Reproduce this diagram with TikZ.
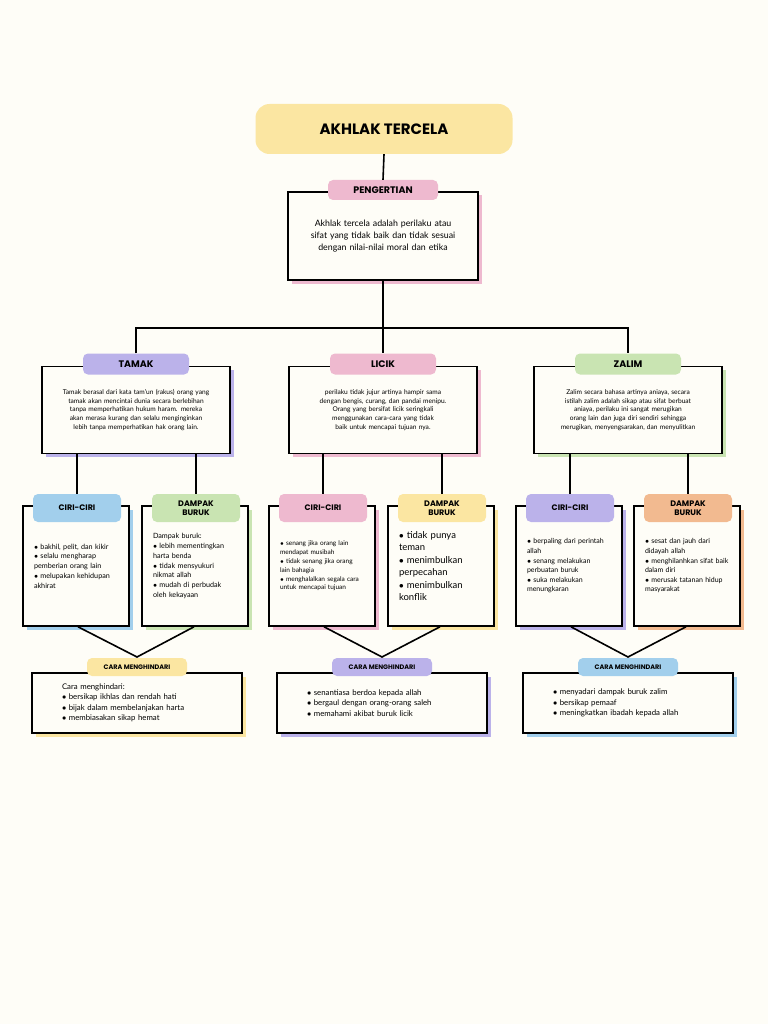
\documentclass[tikz,border=0pt]{standalone}
\usepackage{fontspec}
\setmainfont{Lato}
\newfontfamily\headfont{Poppins}
\usetikzlibrary{shadows}
\hyphenpenalty=10000
\exhyphenpenalty=10000
\definecolor{bg}{HTML}{FEFDF7}
\definecolor{cyel}{HTML}{FBE6A2}
\definecolor{cpink}{HTML}{EEB9CF}
\definecolor{cpurp}{HTML}{BBB2EA}
\definecolor{cblue}{HTML}{A2CFEC}
\definecolor{cgreen}{HTML}{C9E4B2}
\definecolor{corange}{HTML}{F2BA90}
\begin{document}
\begin{tikzpicture}[x=1pt,y=-1pt,
  panel/.style={draw=black,line width=1.6pt,fill=bg,align=center,inner sep=4pt,
     drop shadow={shadow xshift=3.5pt,shadow yshift=-3.5pt,fill=#1,opacity=1}},
  tag/.style={fill=#1,rounded corners=5pt,font=\headfont\bfseries\fontsize{8}{9}\selectfont,align=center,inner sep=2pt},
  link/.style={line width=1.6pt}]
\fill[bg] (0,0) rectangle (768,1024);
\useasboundingbox (0,0) rectangle (768,1024);
% title
\node[fill=cyel,rounded corners=14pt,minimum width=257pt,minimum height=50pt,font=\headfont\bfseries\fontsize{15}{17}\selectfont] (title) at (384,129) {AKHLAK TERCELA};
% pengertian
\node[panel=cpink,minimum width=190pt,minimum height=88pt,text width=150pt,font=\fontsize{8.8}{12}\selectfont] (peng) at (383,236) {Akhlak tercela adalah perilaku atau sifat yang tidak baik dan tidak sesuai dengan nilai-nilai moral dan etika\\[6pt]};
\node[tag=cpink,minimum width=110pt,minimum height=20pt,font=\headfont\bfseries\fontsize{9.5}{11}\selectfont] (pengt) at (383,190) {PENGERTIAN};
\draw[link] (title.south) -- (pengt.north);
% level 2 panels
\foreach \n/\x/\c/\t/\txt in {
 tam/136/cpurp/TAMAK/{Tamak berasal dari kata tam'un (rakus) orang yang tamak akan mencintai dunia secara berlebihan tanpa memperhatikan hukum haram. mereka akan merasa kurang dan selalu menginginkan lebih tanpa memperhatikan hak orang lain.},
 lic/383/cpink/LICIK/{perilaku tidak jujur artinya hampir sama dengan bengis, curang, dan pandai menipu.\\ Orang yang bersifat licik seringkali menggunakan cara-cara yang tidak baik untuk mencapai tujuan nya.},
 zal/628/cgreen/ZALIM/{Zalim secara bahasa artinya aniaya, secara istilah zalim adalah sikap atau sifat berbuat aniaya, perilaku ini sangat merugikan orang lain dan juga diri sendiri sehingga merugikan, menyengsarakan, dan menyulitkan}}{
 \node[panel=\c,minimum width=188pt,minimum height=87pt,text width=148pt,font=\fontsize{6.6}{8.6}\selectfont] (\n) at (\x,410) {\txt\\[10pt]};
 \node[tag=\c,minimum width=106pt,minimum height=21pt,font=\headfont\bfseries\fontsize{9.5}{11}\selectfont] (\n t) at (\x,364) {\t};
}
\coordinate (hub) at (383,328);
\draw[link] (peng.south) -- (hub);
\draw[link] (tamt.north) |- (hub) -| (zalt.north);
\draw[link] (hub) -- (lict.north);
% children
\foreach \n/\x/\c/\t/\s/\l/\txt in {
 tc/76/cblue/CIRI-CIRI/7.2/9.8/{$\bullet$ bakhil, pelit, dan kikir\\ $\bullet$ selalu mengharap pemberian orang lain\\ $\bullet$ melupakan kehidupan akhirat},
 td/195/cgreen/DAMPAK\\BURUK/7.2/9.8/{Dampak buruk:\\ $\bullet$ lebih mementingkan harta benda\\ $\bullet$ tidak mensyukuri nikmat allah\\ $\bullet$ mudah di perbudak oleh kekayaan},
 lc/322/cpink/CIRI-CIRI/6.5/8.8/{$\bullet$ senang jika orang lain mendapat musibah\\ $\bullet$ tidak senang jika orang lain bahagia\\ $\bullet$ menghalalkan segala cara untuk mencapai tujuan},
 ld/441/cyel/DAMPAK\\BURUK/9.5/12.5/{$\bullet$ tidak punya teman\\ $\bullet$ menimbulkan perpecahan\\ $\bullet$ menimbulkan konflik},
 zc/569/cpurp/CIRI-CIRI/7/9.6/{$\bullet$ berpaling dari perintah allah\\ $\bullet$ senang melakukan perbuatan buruk\\ $\bullet$ suka melakukan menungkaran},
 zd/687/corange/DAMPAK\\BURUK/7/9.6/{$\bullet$ sesat dan jauh dari didayah allah\\ $\bullet$ menghilanhkan sifat baik dalam diri\\ $\bullet$ merusak tatanan hidup masyarakat}}{
 \node[panel=\c,minimum width=106pt,minimum height=120pt,text width=84pt,align=left,font=\fontsize{\s}{\l}\selectfont] (\n) at (\x,566) {\txt};
 \node[tag=\c,minimum width=88pt,minimum height=28pt] (\n t) at (\x+1,508) {\t};
}
\draw[link] (tam.south-|tct) -- (tct.north);
\draw[link] (tam.south-|tdt) -- (tdt.north);
\draw[link] (lic.south-|lct) -- (lct.north);
\draw[link] (lic.south-|ldt) -- (ldt.north);
\draw[link] (zal.south-|zct) -- (zct.north);
\draw[link] (zal.south-|zdt) -- (zdt.north);
% cara menghindari
\foreach \n/\x/\c/\a/\b/\txt in {
 tm/137/cyel/tc/td/{Cara menghindari:\\ $\bullet$ bersikap ikhlas dan rendah hati\\ $\bullet$ bijak dalam membelanjakan harta\\ $\bullet$ membiasakan sikap hemat},
 lm/382/cpurp/lc/ld/{$\bullet$ senantiasa berdoa kepada allah\\ $\bullet$ bergaul dengan orang-orang saleh\\ $\bullet$ memahami akibat buruk licik},
 zm/628/cblue/zc/zd/{$\bullet$ menyadari dampak buruk zalim\\ $\bullet$ bersikap pemaaf\\ $\bullet$ meningkatkan ibadah kepada allah}}{
 \node[panel=\c,minimum width=210pt,minimum height=60pt,text width=150pt,align=left,font=\fontsize{7.8}{10.5}\selectfont] (\n) at (\x,703) {\txt};
 \node[tag=\c,minimum width=100pt,minimum height=18pt,font=\headfont\bfseries\fontsize{6.5}{8}\selectfont] (\n t) at (\x,667) {CARA MENGHINDARI};
 \coordinate (\n v) at (\x,657);
 \draw[link] ([xshift=2pt]\a.south) -- (\n v) -- ([xshift=-1pt]\b.south);
}
\end{tikzpicture}
\end{document}
